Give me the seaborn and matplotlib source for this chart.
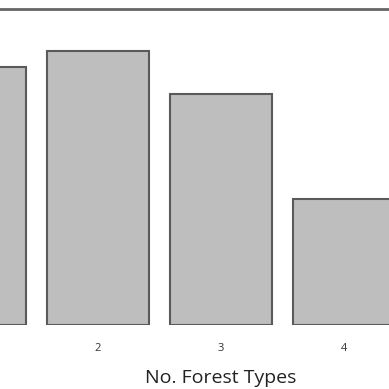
import matplotlib
matplotlib.use("Agg")
import matplotlib.pyplot as plt
import seaborn as sns
import pandas as pd

categories = ["1", "2", "3", "4"]
values = [258, 274, 231, 126]

df = pd.DataFrame({"types": categories, "value": values})

sns.set_style("white")
plt.rcParams['font.family'] = ['Open Sans', 'DejaVu Sans']

fig = plt.figure(figsize=(3.89, 3.89), dpi=100)
ax = fig.add_axes([0.0, (389 - 325) / 389, 1.0, (325 - 8.5) / 389])
sns.barplot(data=df, x="types", y="value", color="#bebebe", saturation=1,
            edgecolor="#5a5a5a", linewidth=1.5, width=0.83, ax=ax)
ax.set_xlim(0.203, 3.366)
ax.set_ylim(0, 317)
for s in ["left", "right", "bottom"]:
    ax.spines[s].set_visible(False)
ax.spines["top"].set_color("#666666")
ax.spines["top"].set_linewidth(2)
ax.set_yticks([])
ax.set_ylabel("")
ax.tick_params(axis="x", length=0, pad=13, labelsize=8, labelcolor="#333333")
ax.set_xlabel("No. Forest Types", fontsize=14, color="#222222")
ax.xaxis.set_label_coords(221 / 389, -(378 - 325) / (325 - 8.5), transform=ax.transAxes)
ax.xaxis.label.set_verticalalignment("center")
fig.savefig("out.png", dpi=100)
